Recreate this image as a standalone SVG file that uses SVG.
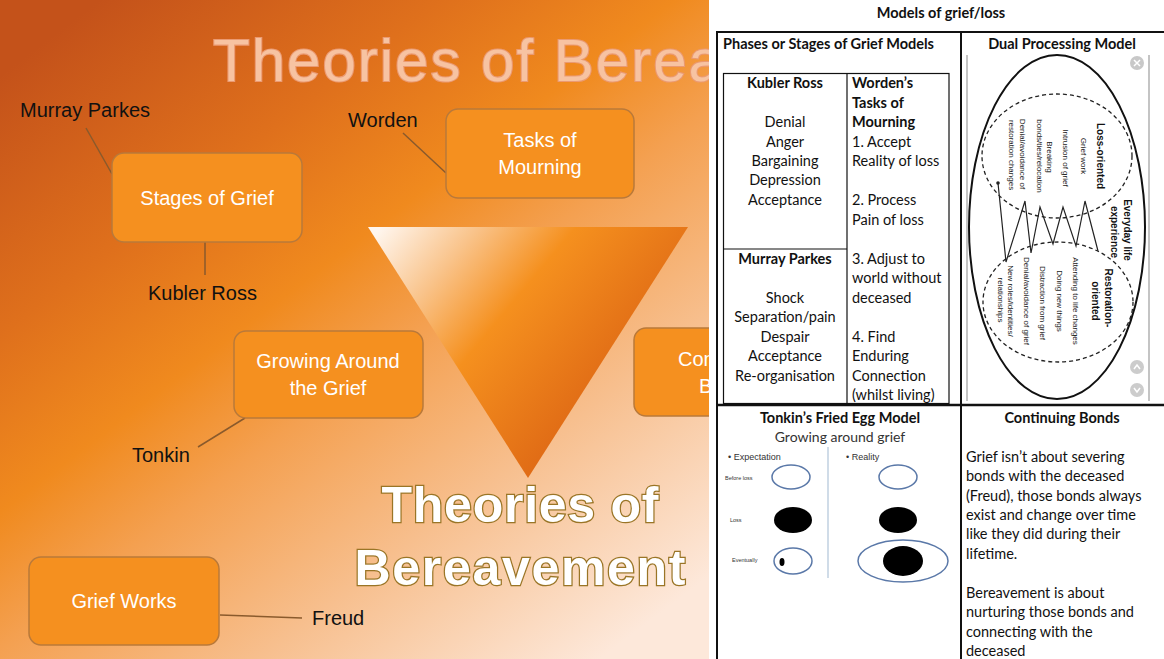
<svg xmlns="http://www.w3.org/2000/svg" width="1164" height="659" viewBox="0 0 1164 659">
<defs>
<linearGradient id="bg" gradientUnits="userSpaceOnUse" x1="100" y1="0" x2="600" y2="659">
<stop offset="0" stop-color="#c4521a"/>
<stop offset="0.25" stop-color="#df701c"/>
<stop offset="0.42" stop-color="#f08a1e"/>
<stop offset="0.55" stop-color="#f4a050"/>
<stop offset="0.75" stop-color="#f7bf8e"/>
<stop offset="1" stop-color="#fde8da"/>
</linearGradient>
<linearGradient id="tri" gradientUnits="userSpaceOnUse" x1="380" y1="228" x2="610" y2="420">
<stop offset="0" stop-color="#fff6ee"/>
<stop offset="0.25" stop-color="#f9c38a"/>
<stop offset="0.5" stop-color="#f5901e"/>
<stop offset="1" stop-color="#dc6414"/>
</linearGradient>
<clipPath id="leftclip"><rect x="0" y="0" width="709" height="659"/></clipPath>
<style>
.node{fill:#f5901f;stroke:#b9793a;stroke-width:1.5}
.ntext{font-family:"Liberation Sans",Arial,sans-serif;font-size:20px;fill:#ffffff;text-anchor:middle}
.lbl{font-family:"Liberation Sans",Arial,sans-serif;font-size:20px;fill:#111111}
.conn{stroke:#8a5a2c;stroke-width:1.5;fill:none}
.big{font-family:"Liberation Sans",Arial,sans-serif;font-weight:bold;font-size:50px;fill:#ffffff;stroke:#9a7526;stroke-width:2.5;paint-order:stroke fill;text-anchor:middle}
.rt{font-family:Lato,"Liberation Sans",sans-serif;font-size:14.5px;fill:#111111}
.rb{font-family:Lato,"Liberation Sans",sans-serif;font-size:14.5px;font-weight:bold;fill:#111111}
.ctr{text-anchor:middle}
.tl{stroke:#111111;fill:none}
.dp{font-family:"Liberation Sans",Arial,sans-serif;font-size:8px;fill:#1a1a1a;text-anchor:middle}
.dpb{font-family:"Liberation Sans",Arial,sans-serif;font-size:10px;font-weight:bold;fill:#111111;text-anchor:middle}
.egg{fill:#ffffff;stroke:#5a78a8;stroke-width:1.5}
.yolk{fill:#000000}
.small{font-family:"Liberation Sans",Arial,sans-serif;font-size:5.5px;fill:#333333}
.bul{font-family:"Liberation Sans",Arial,sans-serif;font-size:9px;fill:#333333}
</style>
</defs>

<g id="left-panel" clip-path="url(#leftclip)">
<rect x="0" y="0" width="709" height="659" fill="url(#bg)"/>
<text x="213" y="81" font-family="'Liberation Sans',Arial,sans-serif" font-size="60" letter-spacing="2" fill="#f7c3a2" stroke="#eb9a72" stroke-width="2.2" paint-order="stroke fill">Theories of Berea</text>
<polygon id="triangle" points="368,227 688,227 528,478" fill="url(#tri)"/>

<g id="connectors">
<line class="conn" x1="86" y1="128" x2="112" y2="174"/>
<line class="conn" x1="205" y1="242" x2="205" y2="275"/>
<line class="conn" x1="403" y1="133" x2="446" y2="173"/>
<line class="conn" x1="245" y1="418" x2="198" y2="447"/>
<line class="conn" x1="220" y1="615" x2="302" y2="618"/>
</g>

<g id="node-stages"><rect class="node" x="112" y="153" width="190" height="89" rx="12"/><text class="ntext" x="207" y="205">Stages of Grief</text></g>
<g id="node-tasks"><rect class="node" x="446" y="109" width="188" height="89" rx="12"/><text class="ntext" x="540" y="147">Tasks of</text><text class="ntext" x="540" y="174">Mourning</text></g>
<g id="node-growing"><rect class="node" x="234" y="331" width="189" height="87" rx="12"/><text class="ntext" x="328" y="368">Growing Around</text><text class="ntext" x="328" y="395">the Grief</text></g>
<g id="node-continuing"><rect class="node" x="634" y="328" width="190" height="88" rx="12"/><text x="678" y="366" font-family="'Liberation Sans',Arial,sans-serif" font-size="20" fill="#ffffff">Con</text><text x="699" y="393" font-family="'Liberation Sans',Arial,sans-serif" font-size="20" fill="#ffffff">B</text></g>
<g id="node-griefworks"><rect class="node" x="29" y="557" width="190" height="88" rx="12"/><text class="ntext" x="124" y="608">Grief Works</text></g>

<g id="label-murray"><text class="lbl" x="20" y="117">Murray Parkes</text></g>
<g id="label-kubler"><text class="lbl" x="148" y="300">Kubler Ross</text></g>
<g id="label-worden"><text class="lbl" x="348" y="127">Worden</text></g>
<g id="label-tonkin"><text class="lbl" x="132" y="462">Tonkin</text></g>
<g id="label-freud"><text class="lbl" x="312" y="625">Freud</text></g>

<g id="center-title">
<text class="big" x="520" y="522" textLength="277" lengthAdjust="spacing">Theories of</text>
<text class="big" x="520" y="585" textLength="331" lengthAdjust="spacing">Bereavement</text>
</g>
</g>

<g id="right-panel">
<rect x="709" y="0" width="455" height="659" fill="#ffffff"/>
<text class="rb ctr" x="941" y="18">Models of grief/loss</text>
<g id="table-lines">
<line class="tl" x1="716" y1="32" x2="1164" y2="32" stroke-width="2"/>
<line class="tl" x1="717" y1="31" x2="717" y2="659" stroke-width="2"/>
<line class="tl" x1="961" y1="31" x2="961" y2="659" stroke-width="2"/>
<line class="tl" x1="716" y1="405" x2="1164" y2="405" stroke-width="2.5"/>
<rect class="tl" x="723.5" y="73.5" width="225.5" height="330" stroke-width="1.2"/>
<line class="tl" x1="847" y1="73" x2="847" y2="404" stroke-width="1.2"/>
<line class="tl" x1="723" y1="249" x2="847" y2="249" stroke-width="1.2"/>
</g>

<g id="cell-phases">
<text class="rb" x="723" y="49">Phases or Stages of Grief Models</text>
<text class="rb ctr" x="785" y="88">Kubler Ross</text>
<text class="rt ctr" x="785" y="127">Denial</text>
<text class="rt ctr" x="785" y="147">Anger</text>
<text class="rt ctr" x="785" y="166">Bargaining</text>
<text class="rt ctr" x="785" y="185">Depression</text>
<text class="rt ctr" x="785" y="205">Acceptance</text>
<text class="rb ctr" x="785" y="264">Murray Parkes</text>
<text class="rt ctr" x="785" y="303">Shock</text>
<text class="rt ctr" x="785" y="322">Separation/pain</text>
<text class="rt ctr" x="785" y="342">Despair</text>
<text class="rt ctr" x="785" y="361">Acceptance</text>
<text class="rt ctr" x="785" y="381">Re-organisation</text>
<text class="rb" x="852" y="88">Worden’s</text>
<text class="rb" x="852" y="108">Tasks of</text>
<text class="rb" x="852" y="127">Mourning</text>
<text class="rt" x="852" y="147">1. Accept</text>
<text class="rt" x="852" y="166">Reality of loss</text>
<text class="rt" x="852" y="205">2. Process</text>
<text class="rt" x="852" y="225">Pain of loss</text>
<text class="rt" x="852" y="264">3. Adjust to</text>
<text class="rt" x="852" y="283">world without</text>
<text class="rt" x="852" y="303">deceased</text>
<text class="rt" x="852" y="342">4. Find</text>
<text class="rt" x="852" y="361">Enduring</text>
<text class="rt" x="852" y="381">Connection</text>
<text class="rt" x="852" y="400">(whilst living)</text>
</g>

<g id="cell-dual">
<text class="rb ctr" x="1062" y="49">Dual Processing Model</text>
<line x1="967" y1="55" x2="967" y2="401" stroke="#b0b0b0" stroke-width="1.5"/>
<line x1="1149" y1="55" x2="1149" y2="401" stroke="#b0b0b0" stroke-width="1.5"/>
<ellipse cx="1057" cy="227" rx="88" ry="172" fill="none" stroke="#111111" stroke-width="2"/>
<ellipse cx="1057" cy="156" rx="75" ry="62" fill="none" stroke="#222222" stroke-width="1.3" stroke-dasharray="4,3"/>
<ellipse cx="1058" cy="302" rx="75" ry="60" fill="none" stroke="#222222" stroke-width="1.3" stroke-dasharray="4,3"/>
<polyline points="998,183 1006,262 1025,201 1031,253 1040,207 1053,244 1063,207 1076,246 1085,201 1098,251" fill="none" stroke="#222222" stroke-width="1.2"/>
<circle cx="998" cy="183" r="1.8" fill="#222222"/>
<text class="dpb" transform="translate(1097,156) rotate(90)">Loss-oriented</text>
<text class="dp" transform="translate(1080.5,156) rotate(90)">Grief work</text>
<text class="dp" transform="translate(1062.5,158) rotate(90)">Intrusion of grief</text>
<text class="dp" transform="translate(1046.5,157) rotate(90)">Breaking</text>
<text class="dp" transform="translate(1036.5,156) rotate(90)">bonds/ties/relocation</text>
<text class="dp" transform="translate(1019.5,154) rotate(90)">Denial/avoidance of</text>
<text class="dp" transform="translate(1008.5,155) rotate(90)">restoration changes</text>
<text class="dpb" transform="translate(1124,230) rotate(90)">Everyday life</text>
<text class="dpb" transform="translate(1111,232) rotate(90)">experience</text>
<text class="dpb" transform="translate(1105,298) rotate(90)">Restoration-</text>
<text class="dpb" transform="translate(1092,301) rotate(90)">oriented</text>
<text class="dp" transform="translate(1073,301) rotate(90)">Attending to life changes</text>
<text class="dp" transform="translate(1057,301) rotate(90)">Doing new things</text>
<text class="dp" transform="translate(1040,303) rotate(90)">Distraction from grief</text>
<text class="dp" transform="translate(1024,301) rotate(90)">Denial/avoidance of grief</text>
<text class="dp" transform="translate(1008,301) rotate(90)">New roles/identities/</text>
<text class="dp" transform="translate(998,300) rotate(90)">relationships</text>
<circle cx="1137" cy="63" r="7" fill="#c8c8c8"/>
<path d="M1134,60 L1140,66 M1140,60 L1134,66" stroke="#ffffff" stroke-width="1.5"/>
<circle cx="1137" cy="367" r="7" fill="#cccccc"/>
<path d="M1134,369 L1137,365 L1140,369" stroke="#ffffff" stroke-width="1.5" fill="none"/>
<circle cx="1137" cy="390" r="7" fill="#cccccc"/>
<path d="M1134,388 L1137,392 L1140,388" stroke="#ffffff" stroke-width="1.5" fill="none"/>
</g>

<g id="cell-tonkin">
<text class="rb ctr" x="840" y="423">Tonkin’s Fried Egg Model</text>
<text class="ctr" x="840" y="442" font-family="Lato,'Liberation Sans',sans-serif" font-size="14" fill="#333333">Growing around grief</text>
<text class="bul" x="728" y="460">•  Expectation</text>
<text class="bul" x="846" y="460">•  Reality</text>
<line x1="828" y1="447" x2="828" y2="578" stroke="#c0d0e0" stroke-width="1.5"/>
<text class="small" x="725" y="480">Before loss</text>
<text class="small" x="730" y="522">Loss</text>
<text class="small" x="732" y="562">Eventually</text>
<ellipse class="egg" cx="791" cy="477" rx="19" ry="12"/>
<ellipse class="egg" cx="898" cy="477" rx="19" ry="12"/>
<ellipse class="yolk" cx="793" cy="520" rx="19" ry="13"/>
<ellipse class="yolk" cx="898" cy="520" rx="19" ry="13"/>
<ellipse class="egg" cx="793" cy="561" rx="19" ry="13"/>
<ellipse class="yolk" cx="782" cy="562" rx="2.5" ry="4"/>
<ellipse class="egg" cx="903" cy="561" rx="45" ry="21"/>
<ellipse class="yolk" cx="903" cy="561" rx="20" ry="15"/>
</g>

<g id="cell-continuing">
<text class="rb ctr" x="1062" y="423">Continuing Bonds</text>
<text class="rt" x="966" y="462">Grief isn’t about severing</text>
<text class="rt" x="966" y="481">bonds with the deceased</text>
<text class="rt" x="966" y="501">(Freud), those bonds always</text>
<text class="rt" x="966" y="520">exist and change over time</text>
<text class="rt" x="966" y="539">like they did during their</text>
<text class="rt" x="966" y="559">lifetime.</text>
<text class="rt" x="966" y="598">Bereavement is about</text>
<text class="rt" x="966" y="617">nurturing those bonds and</text>
<text class="rt" x="966" y="637">connecting with the</text>
<text class="rt" x="966" y="656">deceased</text>
</g>
</g>
</svg>
